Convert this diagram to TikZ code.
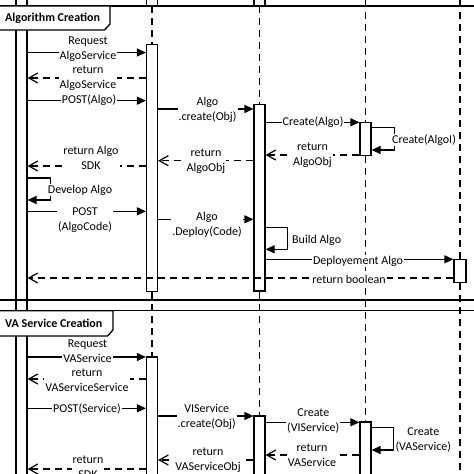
\documentclass[tikz,border=0pt]{standalone}
\usepackage{fontspec}
\setmainfont{Carlito}
\usepackage{tikz}
\usetikzlibrary{arrows.meta, positioning}

\begin{document}
\begin{tikzpicture}[
    x=1pt, y=-1pt,
    actbar/.style={rectangle, draw, fill=white, line width=1.2pt, minimum width=11pt, inner sep=0pt},
    lifeline/.style={line width=1.2pt, dash pattern=on 7pt off 5pt},
    msg/.style={-{Triangle[length=9pt, width=8pt]}, line width=1.2pt},
    ret/.style={-{Straight Barb[length=9pt, width=10pt]}, line width=1.2pt, dash pattern=on 7pt off 5pt},
    lbl/.style={fill=white, inner sep=1pt, align=center, font=\fontsize{12}{15}\selectfont},
    frameline/.style={line width=1.3pt},
    tabtext/.style={anchor=west, inner sep=0pt, font=\fontsize{12}{15}\selectfont\bfseries}
]
\useasboundingbox (0,0) rectangle (474,474);
\clip (0,0) rectangle (474,474);

% Lifeline ends
\coordinate (top4) at (365.5,0);
\coordinate (top5) at (460,0);
\coordinate (bot5) at (460,474);

% Activation bars
\node[actbar, minimum height=485pt] (u) at (21.5,237.5) {};
\node[actbar, minimum height=10.5pt] (a2t) at (152,0.25) {};
\node[actbar, minimum height=10.5pt] (a3t) at (259.5,0.25) {};
\node[actbar, minimum height=247.4pt] (a2) at (152,168) {};
\node[actbar, minimum height=186.7pt] (a3) at (259.5,197.65) {};
\node[actbar, minimum height=33pt] (a4) at (365.5,138.8) {};
\node[actbar, minimum height=23pt, minimum width=12pt] (a5) at (460,270.8) {};
\node[actbar, minimum height=123pt] (b2) at (152,418.5) {};
\node[actbar, minimum height=64pt] (b3) at (259.5,448) {};
\node[actbar, minimum height=58pt] (b4) at (365.5,451) {};

% Lifelines
\draw[lifeline] (a2t.south) -- (a2.north);
\draw[lifeline] (a2.south) -- (b2.north);
\draw[lifeline] (a3t.south) -- (a3.north);
\draw[lifeline] (a3.south) -- (b3.north);
\draw[lifeline] (top4) -- (a4.north);
\draw[lifeline] (a4.south) -- (b4.north);
\draw[lifeline] (top5) -- (a5.north);
\draw[lifeline] (a5.south) -- (bot5);

% Frames
\draw[frameline] (0,6) -- (474,6);
\draw[frameline] (0,300) -- (474,300);
\draw[frameline] (0,310.7) -- (474,310.7);
\draw[frameline, fill=white] (0,6) -- (110,6) -- (110,24) -- (104.5,30) -- (0,30);
\draw[frameline, fill=white] (0,310.7) -- (113,310.7) -- (113,330) -- (107.5,336) -- (0,336);
\node[tabtext] (t1) at (5,18) {Algorithm Creation};
\node[tabtext] (t2) at (5,323) {VA Service Creation};

% Algorithm Creation messages
\draw[msg] (u.east |- 0,52.5) -- (a2.west |- 0,52.5);
\node[lbl] (m1) at (88,49) {Request\\AlgoService};
\draw[ret] (a2.west |- 0,78) -- (u.east |- 0,78);
\node[lbl] (m2) at (88,78) {return\\AlgoService};
\draw[msg] (u.east |- 0,100.7) -- (a2.west |- 0,100.7);
\node[lbl] (m3) at (89,100.5) {POST(Algo)};
\draw[msg] (a2.east |- 0,109) -- (a3.west |- 0,109);
\node[lbl] (m4) at (207.5,110) {Algo\\.create(Obj)};
\draw[msg] (a3.east |- 0,122.3) -- (a4.west |- 0,122.3);
\node[lbl] (m5) at (313,122) {Create(Algo)};
\draw[msg] (a4.east |- 0,127.7) -- ++(23,0) |- (a4.east |- 0,150);
\node[lbl] (m6) at (424,140) {Create(AlgoI)};
\draw[ret] (a4.west |- 0,155) -- (a3.east |- 0,155);
\node[lbl] (m7) at (312.5,155.5) {return\\AlgoObj};
\draw[ret] (a3.west |- 0,160.7) -- (a2.east |- 0,160.7);
\node[lbl] (m8) at (206,161) {return\\AlgoObj};
\draw[ret] (a2.west |- 0,166) -- (u.east |- 0,166);
\node[lbl] (m9) at (91,157.5) {return Algo\\SDK};
\draw[msg] (u.east |- 0,178) -- ++(23,0) |- (u.east |- 0,200);
\node[lbl] (m10) at (80,190) {Develop Algo};
\draw[msg] (u.east |- 0,211.3) -- (a2.west |- 0,211.3);
\node[lbl] (m11) at (85,220) {POST\\(AlgoCode)};
\draw[msg] (a2.east |- 0,219.3) -- (a3.west |- 0,219.3);
\node[lbl] (m12) at (207,225) {Algo\\.Deploy(Code)};
\draw[msg] (a3.east |- 0,227.7) -- ++(22,0) |- (a3.east |- 0,249.3);
\node[lbl, anchor=west] (m13) at (291,240) {Build Algo};
\draw[msg] (a3.east |- 0,259.3) -- (a5.west |- 0,259.3);
\node[lbl] (m14) at (358,261) {Deployement Algo};
\draw[ret] (a5.west |- 0,278) -- (u.east |- 0,278);
\node[lbl] (m15) at (349,279) {return boolean};

% VA Service Creation messages
\draw[msg] (u.east |- 0,357) -- (b2.west |- 0,357);
\node[lbl] (n1) at (87.5,351) {Request\\VAService};
\draw[ret] (b2.west |- 0,379) -- (u.east |- 0,379);
\node[lbl] (n2) at (87,380) {return\\VAServiceService};
\draw[msg] (u.east |- 0,408.3) -- (b2.west |- 0,408.3);
\node[lbl] (n3) at (87,409) {POST(Service)};
\draw[msg] (b2.east |- 0,416) -- (b3.west |- 0,416);
\node[lbl] (n4) at (206.7,417) {VIService\\.create(Obj)};
\draw[msg] (b3.east |- 0,422.3) -- (b4.west |- 0,422.3);
\node[lbl] (n5) at (313.3,421) {Create\\(VIService)};
\draw[msg] (b4.east |- 0,427.7) -- ++(22,0) |- (b4.east |- 0,450);
\node[lbl] (n6) at (423.3,439.7) {Create\\(VAService)};
\draw[ret] (b4.west |- 0,455) -- (b3.east |- 0,455);
\node[lbl] (n7) at (312,455) {return\\VAService};
\draw[ret] (b3.west |- 0,460) -- (b2.east |- 0,460);
\node[lbl] (n8) at (208,460) {return\\VAServiceObj};
\draw[ret] (b2.west |- 0,469) -- (u.east |- 0,469);
\node[lbl] (n9) at (88,467) {return\\SDK};

\end{tikzpicture}
\end{document}
